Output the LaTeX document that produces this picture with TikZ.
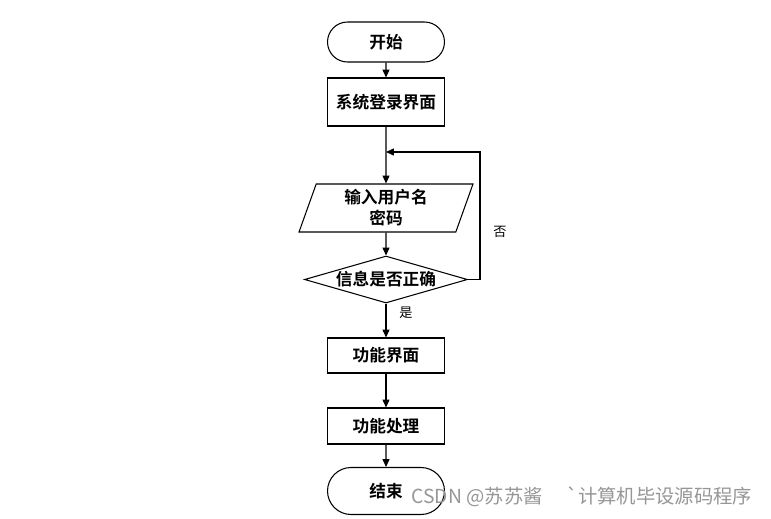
\documentclass[tikz,border=0pt]{standalone}
\usepackage{fontspec}
\newfontfamily\cjk[BoldFont={Noto Sans CJK SC Bold}]{Noto Sans CJK SC}
\usepackage{tikz}
\usetikzlibrary{arrows.meta,shapes.geometric,shapes.misc}
\definecolor{mark}{RGB}{150,150,150}

\tikzset{
  term/.style={draw, rounded rectangle, minimum width=2.34cm, minimum height=0.8cm, inner sep=0pt},
  proc/.style={draw, rectangle, minimum width=2.34cm, minimum height=0.7cm, inner sep=0pt},
  inbox/.style={draw, trapezium, trapezium left angle=65, trapezium right angle=115,
                trapezium stretches body, minimum width=3.48cm, minimum height=0.96cm,
                inner sep=0pt, align=center},
  decide/.style={draw, diamond, aspect=3.47, minimum width=3.26cm, minimum height=0.94cm, inner sep=0pt},
  lbl/.style={font=\cjk\fontsize{7.5}{9}\selectfont}
}

\begin{document}
\begin{tikzpicture}[x=0.02cm, y=-0.02cm, line width=0.6pt,
  every node/.style={font=\cjk\bfseries\fontsize{9.5}{12}\selectfont},
  >={Triangle[length=4.5pt,width=4pt]}]
\useasboundingbox (0,0) rectangle (771,518);
% flow nodes
\node[term] (start) at (386,42) {开始};
\node[proc, minimum height=0.96cm] (login) at (386,102) {系统登录界面};
\node[inbox] (input) at (386,208) {输入用户名\\密码};
\node[decide] (check) at (386,279.5) {信息是否正确};
\node[proc] (func) at (386,355.5) {功能界面};
\node[proc, minimum height=0.72cm] (work) at (386,426) {功能处理};
\node[term, minimum height=0.94cm] (stop) at (386,491) {结束};
% straight links
\foreach \a/\b in {start/login, login/input, input/check, check/func, func/work, work/stop}
  \draw[->] (\a) -- (\b);
% retry loop
\coordinate (join) at (386,152);
\coordinate (turn) at (480,152);
\draw[->] (check.east) -| (turn) -- (join);
\node[lbl] (no) at (500,232) {否};
\node[lbl] (yes) at (406,313) {是};
% watermark
\node[anchor=west, inner sep=0pt, text=mark, font=\cjk\fontsize{11}{13}\selectfont] (wm) at (411,497)
  {CSDN @苏苏酱\quad\ `计算机毕设源码程序};
\end{tikzpicture}
\end{document}
